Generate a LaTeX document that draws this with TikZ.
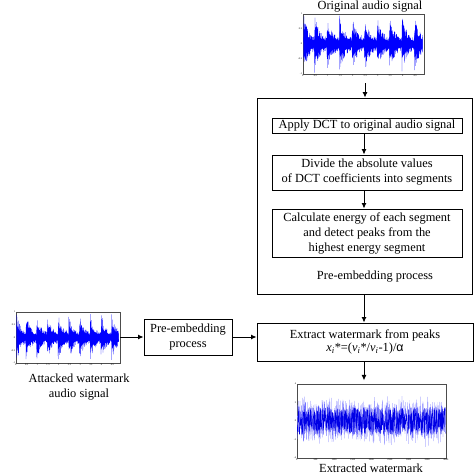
\documentclass[tikz,border=0pt]{standalone}
\usepackage{fontspec}
\setmainfont{Liberation Serif}
\newfontfamily\alphafont{Liberation Sans}
\usetikzlibrary{arrows.meta,positioning}

\tikzset{
  stepbox/.style={draw, line width=0.9pt, align=center, inner sep=0pt,
    font=\fontsize{12.4}{15}\selectfont},
  flow/.style={line width=1pt, -{Latex[length=5.5pt,width=5pt]}},
  plotframe/.style={draw=black!70, line width=0.3pt, inner sep=0pt},
  ticklabel/.style={font=\fontsize{2.5}{3}\selectfont, inner sep=0.6pt},
  caption/.style={font=\fontsize{12.4}{15}\selectfont, align=center, inner sep=0pt},
}

\begin{document}
\begin{tikzpicture}[x=1pt, y=-1pt]
	\useasboundingbox (0,0) rectangle (474,474);

	% original audio signal
	\node[caption] (origtext) at (370,6.5) {Original audio signal};
	\node[plotframe, minimum width=121pt, minimum height=60pt] (orig) at (363.5,44) {};
	\begin{scope}[shift={(orig.west)}, x=24.95pt, y=30pt]
		\pgfmathsetseed{7}
		\fill[blue] plot[samples=300, domain=0.03:4.8]
			(\x, {0.5*(0.15+0.8*exp(-5*mod(\x+0.03,0.5))+0.3*exp(-6*\x))})
			-- plot[samples=300, domain=4.8:0.03]
			(\x, {-0.5*(0.15+0.8*exp(-5*mod(\x+0.03,0.5))+0.3*exp(-6*\x))}) -- cycle;
		\draw[blue, line width=0.25pt] plot[samples=1200, domain=0.03:4.8]
			(\x, {(0.15+0.8*exp(-5*mod(\x+0.03,0.5))+0.3*exp(-6*\x))*rand});
		\foreach \t in {0,0.5,1,1.5,2,2.5,3,3.5,4,4.5}
			\node[ticklabel, below] at (\t,-1) {\t};
		\foreach \v in {1,0.5,0,-0.5,-1}
			\node[ticklabel, left] at (0,\v) {\v};
	\end{scope}
	\coordinate (origout) at (365,83);

	% pre-embedding process
	\node[draw, line width=0.8pt, minimum width=215pt, minimum height=196pt] (outer) at (364.5,196) {};
	\node[stepbox, minimum width=190pt, minimum height=15pt] (dct) at (367,125.5)
		{Apply DCT to original audio signal};
	\node[stepbox, minimum width=190pt, minimum height=35pt] (divide) at (367,172.5)
		{Divide the absolute values\\of DCT coefficients into segments};
	\node[stepbox, minimum width=190pt, minimum height=48pt] (energy) at (367,233)
		{Calculate energy of each segment\\and detect peaks from the\\highest energy segment};
	\node[caption] (pretext) at (375,277) {Pre-embedding process};

	% attacked watermark audio signal
	\node[plotframe, minimum width=104pt, minimum height=51pt] (attacked) at (68,337.5) {};
	\begin{scope}[shift={(attacked.west)}, x=21.44pt, y=25.5pt]
		\pgfmathsetseed{21}
		\fill[blue] plot[samples=300, domain=0.03:4.8]
			(\x, {0.5*(0.15+0.8*exp(-5*mod(\x+0.03,0.5))+0.3*exp(-6*\x))})
			-- plot[samples=300, domain=4.8:0.03]
			(\x, {-0.5*(0.15+0.8*exp(-5*mod(\x+0.03,0.5))+0.3*exp(-6*\x))}) -- cycle;
		\draw[blue, line width=0.25pt] plot[samples=1000, domain=0.03:4.8]
			(\x, {(0.15+0.8*exp(-5*mod(\x+0.03,0.5))+0.3*exp(-6*\x))*rand});
		\foreach \t in {0,0.5,1,1.5,2,2.5,3,3.5,4,4.5}
			\node[ticklabel, below] at (\t,-1) {\t};
		\foreach \v in {1,0.5,0,-0.5,-1}
			\node[ticklabel, left] at (0,\v) {\v};
	\end{scope}
	\node[caption] (attackedtext) at (79,387.5) {Attacked watermark\\audio signal};

	\node[stepbox, minimum width=88pt, minimum height=36pt] (pre) at (188,337)
		{Pre-embedding\\process};
	\node[stepbox, minimum width=216pt, minimum height=38pt, font=\fontsize{12.4}{13.5}\selectfont] (extract) at (365,342)
		{Extract watermark from peaks\\\textit{x}\textsubscript{\textit{i}}*=(\textit{v}\textsubscript{\textit{i}}*/\textit{v}\textsubscript{\textit{i}}-1)/{\alphafont α}};

	% extracted watermark
	\node[plotframe, minimum width=149pt, minimum height=74pt] (wm) at (371.5,421) {};
	\begin{scope}[shift={(wm.west)}, x=37.25pt, y=9.25pt]
		\pgfmathsetseed{3}
		\draw[blue!55, line width=0.2pt] plot[samples=1000, domain=0.01:3.99]
			(\x, {2.0*rand+0.8*rand});
		\draw[blue!90!black, line width=0.2pt] plot[samples=900, domain=0.01:3.99]
			(\x, {1.5*rand});
		\foreach \t/\l in {0/0,0.5/500,1/1000,1.5/1500,2/2000,2.5/2500,3/3000,3.5/3500,4/4000}
			\node[ticklabel, below] at (\t,-4) {\l};
		\foreach \v in {4,2,0,-2,-4}
			\node[ticklabel, left] at (0,\v) {\v};
	\end{scope}
	\node[caption] (wmtext) at (371,468) {Extracted watermark};

	% connectors
	\draw[flow] (origout) -- (outer.north -| origout);
	\draw[flow] (dct.south -| 364,0) -- (divide.north -| 364,0);
	\draw[flow] (divide.south -| 364,0) -- (energy.north -| 364,0);
	\draw[flow] (outer.south -| 364,0) -- (extract.north -| 364,0);
	\draw[flow] (attacked.east |- pre.west) -- (pre.west);
	\draw[flow] (pre.east) -- (extract.west |- pre.east);
	\draw[flow] (extract.south -| 364,0) -- ++(0,19);
\end{tikzpicture}
\end{document}
